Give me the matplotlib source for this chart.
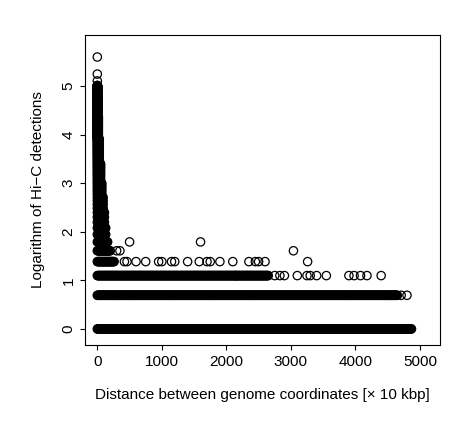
import numpy as np
import matplotlib
matplotlib.use("Agg")
import matplotlib.pyplot as plt

plt.rcParams["font.family"] = ["Liberation Sans", "DejaVu Sans"]

# groups of Hi-C counts (low, high) and how far (in 10 kbp) each runs as a dense band
count_lo = [1, 2, 3, 4, 5, 6, 7, 9, 12, 16, 21, 31, 51, 81, 121]
count_hi = [1, 2, 3, 4, 5, 6, 8, 11, 15, 20, 30, 50, 80, 120, 150]
max_dist = [4870, 4650, 2650, 260, 200, 160, 130, 110, 90, 70, 50, 30, 15, 6, 2]

# scattered points outside the dense bands
out_x = [4710, 4800, 2750, 2900, 3100, 3250, 3400, 3550, 3900, 3980, 4080, 4180, 4400,
         3040, 3260, 2100, 2450, 2600, 1750, 1000, 950, 750, 1600, 500, 350, 4560,
         2830, 1580, 3300, 2150, 1200, 0, 300, 420, 460, 600, 1150, 1400, 1700, 2350,
         1900, 2500, 0, 0]
out_c = [2, 2, 3, 3, 3, 3, 3, 3, 3, 3, 3, 3, 3,
         5, 4, 4, 4, 4, 4, 4, 4, 4, 6, 6, 5, 2,
         3, 4, 3, 3, 4, 270, 5, 4, 4, 4, 4, 4, 4, 4,
         4, 4, 165, 190]

xs, ys = [], []
for lo, hi, d in zip(count_lo, count_hi, max_dist):
    for c in range(lo, hi + 1):
        x = np.arange(0, d + 1, 10 if d > 20 else 1)
        xs.append(x)
        ys.append(np.full(len(x), np.log(c)))
xs.append(np.array(out_x))
ys.append(np.log(np.array(out_c, dtype=float)))
x = np.concatenate(xs)
y = np.concatenate(ys)

fig = plt.figure(figsize=(4.74, 4.44), dpi=100)
ax = fig.add_axes([0.18, 0.223, 0.748, 0.698])
ax.scatter(x, y, s=36, facecolors="none", edgecolors="black", linewidths=0.9)
ax.set_xlim(-186, 5310)
ax.set_ylim(-0.33, 6.05)
ax.set_xticks([0, 1000, 2000, 3000, 4000, 5000])
ax.set_yticks([0, 1, 2, 3, 4, 5])
ax.tick_params(axis="y", labelrotation=90, labelsize=11)
ax.tick_params(axis="x", labelsize=11)
for t in ax.get_yticklabels():
    t.set_va("center")
ax.set_xlabel("Distance between genome coordinates [\u00d7 10 kbp]", fontsize=11, labelpad=14)
ax.set_ylabel("Logarithm of Hi\u2212C detections", fontsize=11, labelpad=12)
fig.savefig("out.png")
